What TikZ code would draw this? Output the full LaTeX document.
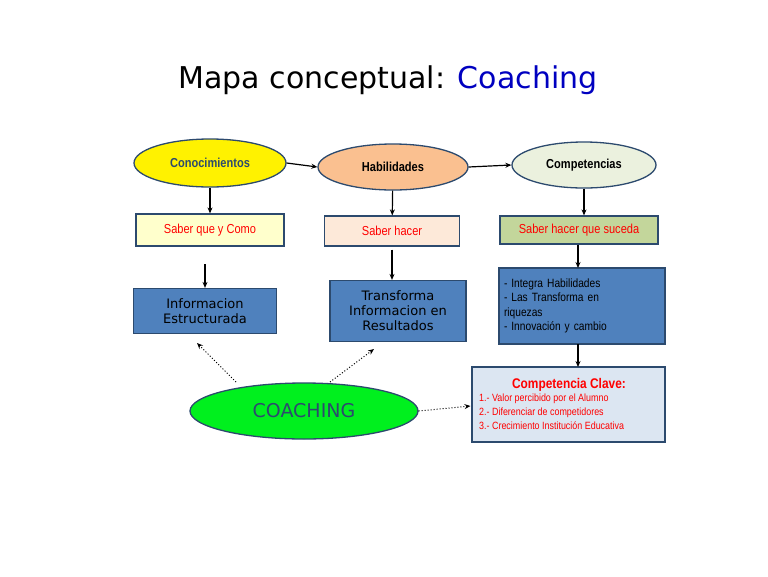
\documentclass[tikz,border=0pt]{standalone}
\usepackage{fontspec}
\setmainfont{DejaVu Sans}
\newfontfamily\narrowf[FakeStretch=0.85]{Liberation Sans}
\usetikzlibrary{shapes.geometric,arrows.meta}
\definecolor{bord}{HTML}{2C4A6E}
\definecolor{bluebox}{HTML}{4F81BD}
\tikzset{
 ell/.style={ellipse,draw=bord,line width=1.3pt,inner sep=0pt},
 rbox/.style={draw=bord,line width=1.2pt,inner sep=0pt,text=red,font=\narrowf\fontsize{13}{15}\selectfont},
 bbox/.style={draw=bord,line width=1.2pt,fill=bluebox,inner sep=0pt,align=center,font=\fontsize{13}{15}\selectfont},
 arr/.style={-{Stealth[length=6pt,width=5pt]},line width=1.2pt},
 dot/.style={-{Stealth[length=6pt,width=5pt]},dotted,line width=1pt}
}
\begin{document}
\begin{tikzpicture}[x=1pt,y=-1pt]
\useasboundingbox (0,0) rectangle (768,576);
\node (title) at (388,80) {\fontsize{30}{36}\selectfont Mapa conceptual: \textcolor[HTML]{0000C0}{Coaching}};
\node[ell,fill=yellow,minimum width=152,minimum height=48,text=bord,font=\narrowf\bfseries\fontsize{13}{15}\selectfont] (con) at (210,163) {Conocimientos};
\node[ell,fill={rgb,255:red,250;green,192;blue,144},minimum width=150,minimum height=46,font=\narrowf\bfseries\fontsize{13}{15}\selectfont] (hab) at (393,167) {Habilidades};
\node[ell,fill={rgb,255:red,235;green,241;blue,222},minimum width=144,minimum height=46,font=\narrowf\bfseries\fontsize{13}{15}\selectfont] (com) at (584,165) {Competencias};
\draw[arr] (con.east) -- (hab.west);
\draw[arr] (hab.east) -- (com.west);
\node[rbox,fill={rgb,255:red,255;green,255;blue,204},minimum width=148,minimum height=32] (s1) at (210,230) {Saber que y Como};
\node[rbox,fill={rgb,255:red,253;green,233;blue,217},minimum width=135,minimum height=30] (s2) at (392,231) {Saber hacer};
\node[rbox,fill={rgb,255:red,195;green,214;blue,155},minimum width=158,minimum height=28] (s3) at (579,230) {Saber hacer que suceda};
\draw[arr] (con) -- (con|-s1.north);
\draw[arr] (hab) -- (s2);
\draw[arr] (com) -- (com|-s3.north);
\node[bbox,minimum width=143,minimum height=45] (b1) at (205,311) {Informacion\\Estructurada};
\node[bbox,minimum width=136,minimum height=61] (b2) at (398,311) {Transforma\\Informacion en\\Resultados};
\node[bbox,minimum width=166,minimum height=76,align=left,text width=156,font=\narrowf\fontsize{12}{14.5}\selectfont] (b3) at (582,306) {- Integra Habilidades\\- Las Transforma en\\riquezas\\- Innovación y cambio\\[8pt]};
\coordinate (g1) at (205,264);
\draw[arr] (g1) -- (b1);
\draw[arr] (s2.south) ++(0,3) -- (s2.south|-b2.north);
\draw[arr] (s3.south-|578,0) -- (578,268);
\node[draw=bord,line width=2pt,fill={rgb,255:red,220;green,230;blue,242},minimum width=193,minimum height=75,inner sep=0pt] (cc) at (568,404) {};
\node[text=red,font=\narrowf\bfseries\fontsize{14}{16}\selectfont] (cct) at (569,385) {Competencia Clave:};
\node[text=red,anchor=north west,align=left,inner sep=0pt,font=\narrowf\fontsize{10.5}{14}\selectfont] (ccl) at (479,394) {1.- Valor percibido por el Alumno\\2.- Diferenciar de competidores\\3.- Crecimiento Institución Educativa};
\draw[arr] (578,344) -- (578,367);
\node[ell,fill={rgb,255:red,0;green,240;blue,30},minimum width=228,minimum height=56,font=\fontsize{19}{22}\selectfont,text=bord] (co) at (304,411) {COACHING};
\coordinate (d1) at (236,382);
\coordinate (d2) at (330,382);
\draw[dot] (d1) -- (197,343);
\draw[dot] (d2) -- (374,349);
\draw[dot] (co.east) -- (cc.west|-0,406);
\end{tikzpicture}
\end{document}
